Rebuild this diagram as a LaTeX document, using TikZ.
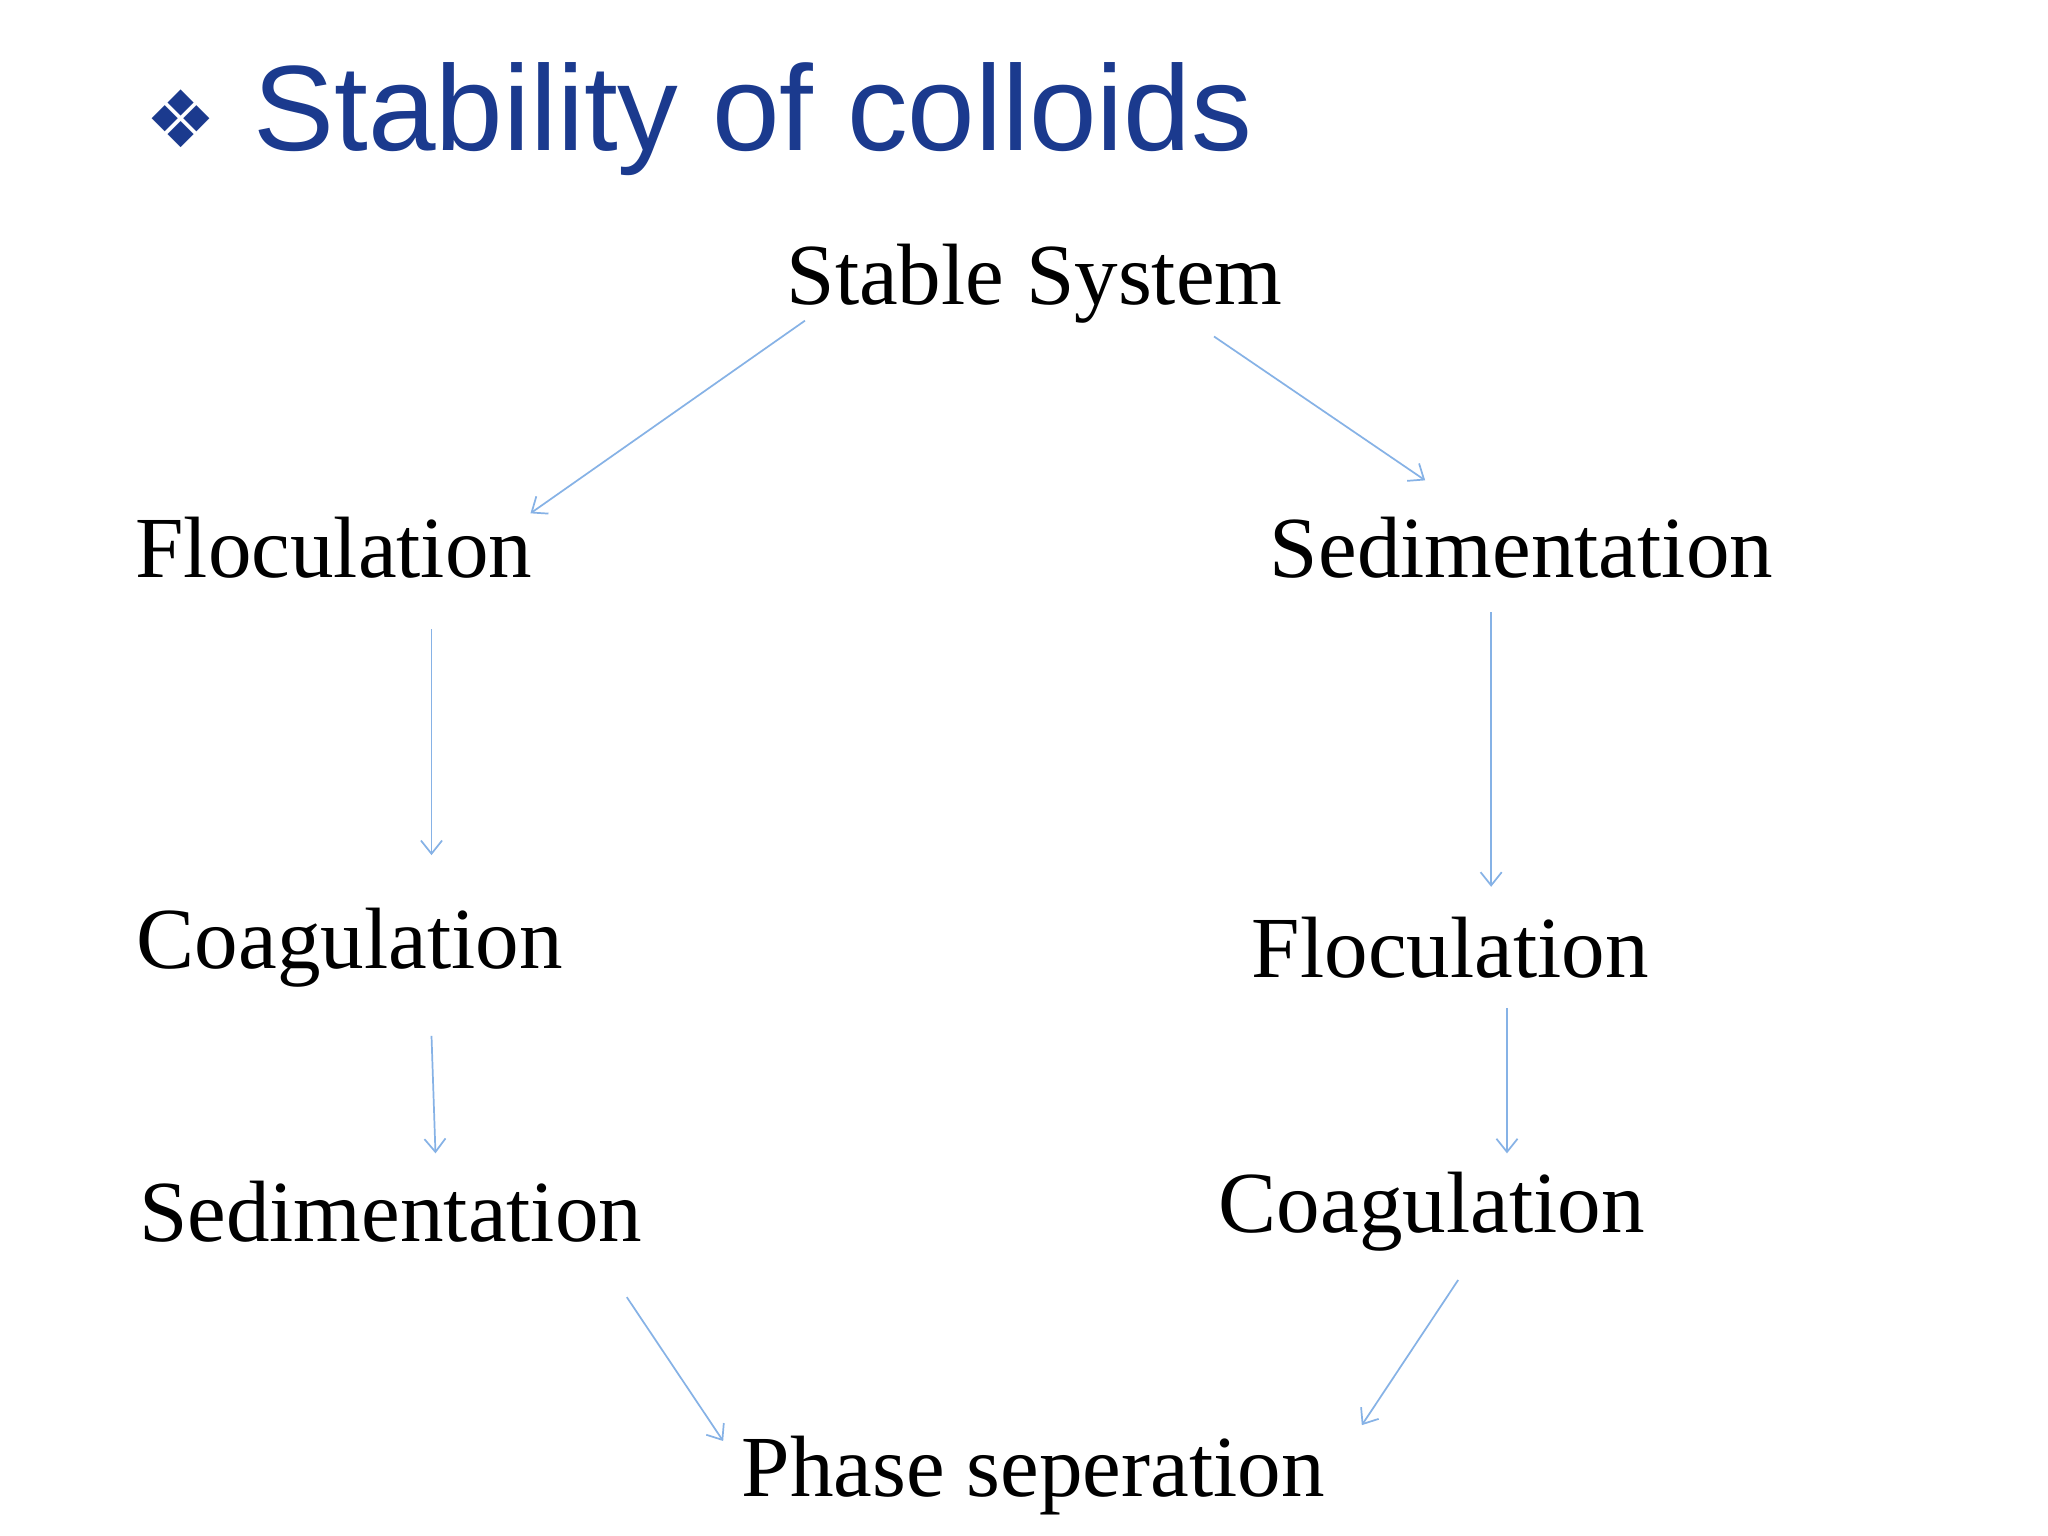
\documentclass[tikz,border=0pt]{standalone}
\usepackage{fontspec}
\setmainfont{Liberation Serif}
\newfontfamily\titlefont{Liberation Sans}
\newfontfamily\symfont{DejaVu Sans}
\usetikzlibrary{arrows.meta}
\definecolor{titleblue}{HTML}{1B3A8E}
\definecolor{arr}{HTML}{86B2E6}
\tikzset{lbl/.style={font=\fontsize{66}{70}\selectfont,inner sep=0pt,text=black},
 con/.style={draw=arr,line width=1.3pt,-{Straight Barb[length=10pt,width=16pt]}}}
\begin{document}
\begin{tikzpicture}[x=1pt,y=-1pt]
\useasboundingbox[fill=white] (0,0) rectangle (1552,1164);
\node[inner sep=0pt,text=titleblue,font=\symfont\fontsize{60}{60}\selectfont] (sym) at (137,90) {❖};
\node[anchor=west,inner sep=0pt,text=titleblue,font=\titlefont\fontsize{92}{96}\selectfont] (title) at (192,90) {Stability of colloids};
\node[lbl] (ss) at (784,215) {Stable System};
\node[lbl] (f1) at (253,415) {Floculation};
\node[lbl] (s2) at (1153,415) {Sedimentation};
\node[lbl] (c1) at (265,718) {Coagulation};
\node[lbl] (f2) at (1099,718) {Floculation};
\node[lbl] (s1) at (296,918) {Sedimentation};
\node[lbl] (c2) at (1085,918) {Coagulation};
\node[lbl] (ps) at (783,1118) {Phase seperation};
\coordinate (a1) at (610,243); \coordinate (b1) at (402,389);
\coordinate (a2) at (920,255); \coordinate (b2) at (1080,364);
\coordinate (a3) at (327,477); \coordinate (b3) at (327,648);
\coordinate (a4) at (1130,464); \coordinate (b4) at (1130,672);
\coordinate (a5) at (327,785); \coordinate (b5) at (330,874);
\coordinate (a6) at (1142,764); \coordinate (b6) at (1142,874);
\coordinate (a7) at (475,983); \coordinate (b7) at (548,1092);
\coordinate (a8) at (1105,970); \coordinate (b8) at (1032,1080);
\foreach \i in {1,...,8} \draw[con] (a\i) -- (b\i);
\end{tikzpicture}
\end{document}
